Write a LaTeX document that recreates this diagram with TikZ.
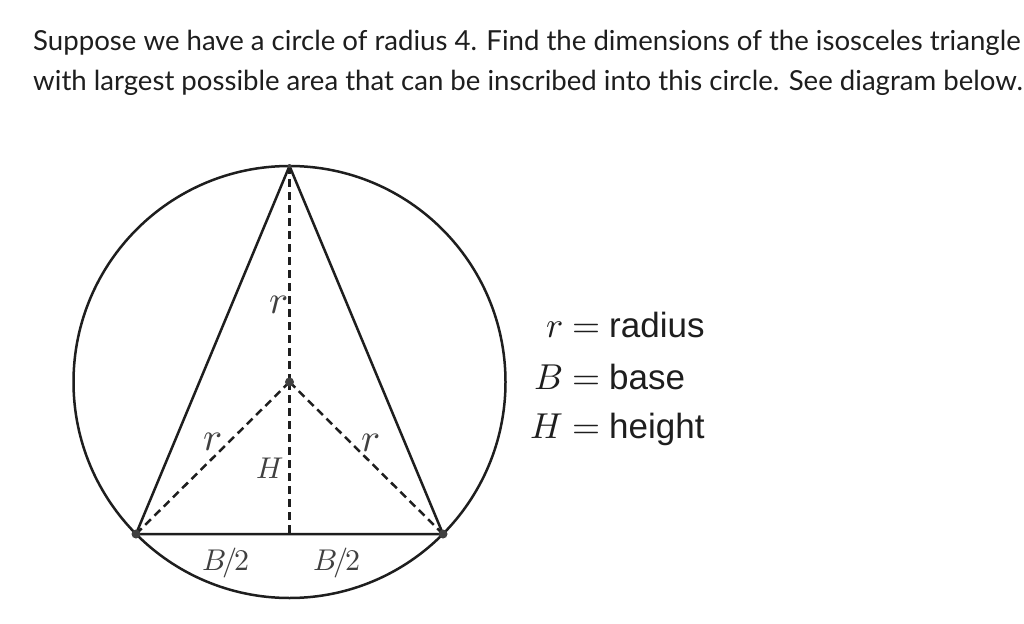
\documentclass[tikz,border=0pt]{standalone}
\usepackage{fontspec}
\usepackage{unicode-math}
\setmathfont{Latin Modern Math}
\newfontfamily\latofont{Lato}
\newfontfamily\arialfont{Liberation Sans}
\definecolor{lblgray}{HTML}{404040}
\definecolor{ink}{HTML}{1E1E1E}
\begin{document}
\begin{tikzpicture}[x=1pt,y=-1pt,
  solidline/.style={draw=ink,line width=2.5pt},
  dashline/.style={draw=ink,line width=2.5pt,dash pattern=on 8pt off 5pt},
  dotmark/.style={circle,fill=ink!85,inner sep=0pt,minimum size=9pt},
  headtxt/.style={anchor=base west,inner sep=0pt,text=ink,font=\latofont\fontsize{27.6}{30}\selectfont},
  lbl/.style={inner sep=0pt,text=lblgray},
  legmath/.style={anchor=base east,inner sep=0pt,text=ink,font=\fontsize{36}{40}\selectfont},
  legtxt/.style={anchor=base west,inner sep=0pt,text=ink,font=\arialfont\fontsize{35}{40}\selectfont}]
\useasboundingbox (0,0) rectangle (1024,623);
\fill[white] (0,0) rectangle (1024,623);
% header
\node[headtxt] (h1) at (33,51) {Suppose we have a circle of radius 4. Find the dimensions of the isosceles triangle};
\node[headtxt] (h2) at (33,91) {with largest possible area that can be inscribed into this circle. See diagram below.};
% geometry
\coordinate (O) at (289.5,382);
\coordinate (A) at (289.5,166);
\coordinate (L) at (136,534);
\coordinate (R) at (443,534);
\coordinate (M) at (289.5,534);
\draw[solidline] (O) circle[radius=216pt];
\draw[dashline] (A) -- (O);
\draw[dashline] (O) -- (M);
\draw[dashline] (O) -- (L);
\draw[dashline] (O) -- (R);
\draw[solidline,line join=round] (A) -- (L) -- (R) -- cycle;
\node[dotmark] (dO) at (O) {};
\node[dotmark] (dL) at (L) {};
\node[dotmark] (dR) at (R) {};
\node[dotmark,minimum size=4pt] (dA) at (A) {};
% labels
\node[lbl,font=\fontsize{40}{40}\selectfont] (rtop) at (279,305) {$r$};
\node[lbl,font=\fontsize{40}{40}\selectfont] (rleft) at (213,442) {$r$};
\node[lbl,font=\fontsize{40}{40}\selectfont] (rright) at (371,443) {$r$};
\node[lbl,font=\fontsize{30}{30}\selectfont] (hlbl) at (270,468) {$H$};
\node[lbl,anchor=base,font=\fontsize{30}{30}\selectfont] (bl) at (226,570) {$B\mkern-2mu/\mkern-2mu2$};
\node[lbl,anchor=base,font=\fontsize{30}{30}\selectfont] (br) at (337,570) {$B\mkern-2mu/\mkern-2mu2$};
% legend
\node[legmath] (m1) at (601,337) {$r=$};
\node[legtxt] (t1) at (609,337) {radius};
\node[legmath] (m2) at (601,389) {$B=$};
\node[legtxt] (t2) at (609,389) {base};
\node[legmath] (m3) at (601,438) {$H=$};
\node[legtxt] (t3) at (609,438) {height};
\end{tikzpicture}
\end{document}
